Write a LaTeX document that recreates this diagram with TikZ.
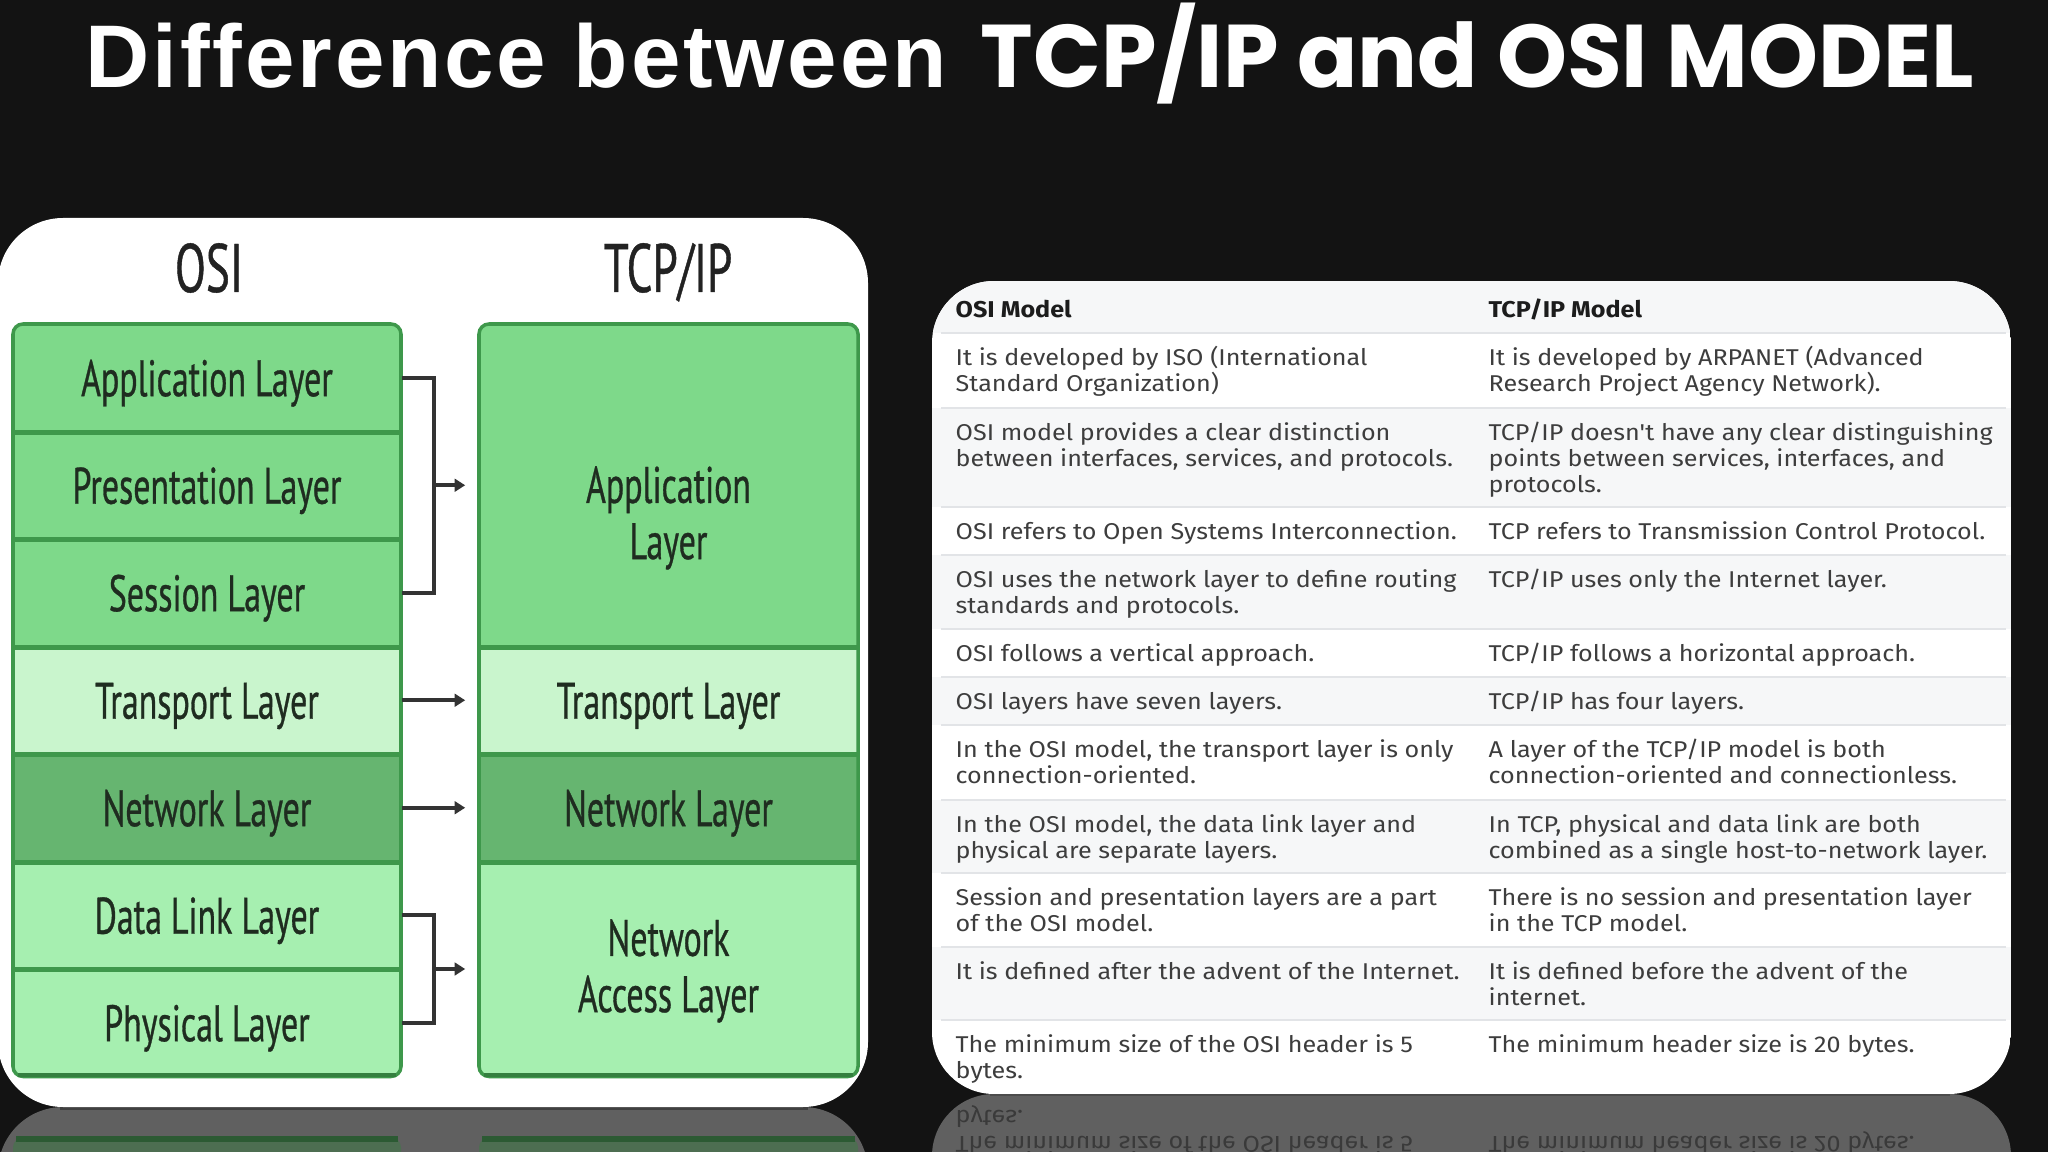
\documentclass[tikz,border=0pt]{standalone}
\usepackage{fontspec}
\usetikzlibrary{arrows.meta}
\setmainfont{Fira Sans}
\newfontfamily\tblfont[FakeStretch=1.1]{Fira Sans}
\newfontfamily\condf[FakeStretch=0.66,FakeBold=0.6]{PT Sans}
\newfontfamily\arialf[LetterSpace=3.2]{Liberation Sans}
\newfontfamily\popf{Poppins}
\newcommand\tstrut{\rule{0pt}{6pt}}
\newcommand\rstrut{\rule[-2pt]{0pt}{8pt}}
\definecolor{bg}{HTML}{131313}
\definecolor{gmid}{HTML}{7ED98A}
\definecolor{glight}{HTML}{C9F5CD}
\definecolor{gdark}{HTML}{66B570}
\definecolor{gpale}{HTML}{A6EFB0}
\definecolor{gline}{HTML}{3E984B}
\definecolor{gshadow}{HTML}{347F3F}
\definecolor{gtext}{HTML}{1F2C20}
\definecolor{headtext}{HTML}{222222}
\definecolor{conncol}{HTML}{333333}
\definecolor{tbltext}{HTML}{3D3D3D}
\definecolor{tblhead}{HTML}{1C1C1C}
\definecolor{tblline}{HTML}{E2E4E7}
\definecolor{tblgray}{HTML}{F6F7F8}
\definecolor{reflgray}{HTML}{606060}
\definecolor{reflgreen}{HTML}{4D6E51}
\definecolor{refldark}{HTML}{2C5A33}
\definecolor{refltext}{HTML}{3A3A3A}
\begin{document}
\begin{tikzpicture}[x=0.01cm, y=-0.01cm,
  layer/.style={inner sep=0pt, minimum height=1.075cm, text=gtext, font=\condf\fontsize{14.6}{16}\selectfont, text height=10.9pt, text depth=0.4pt},
  layertxt/.style={inner sep=0pt, text=gtext, font=\condf\fontsize{14.6}{16}\selectfont, align=center},
  osiw/.style={minimum width=3.88cm},
  tcpw/.style={minimum width=3.79cm},
  sepline/.style={gline, line width=1.4pt},
  conn/.style={draw=conncol, line width=1.1pt},
  arr/.style={conn, -{Triangle[length=3pt,width=3.6pt]}, shorten >=0.13cm},
  tbl/.style={anchor=north west, inner sep=0pt, align=left, text=tbltext, font={\tblfont\fontsize{6.5}{7.4}\selectfont\lineskiplimit=-5pt}},
  tblh/.style={tbl, text=tblhead, font={\tblfont\bfseries\fontsize{6.5}{7.4}\selectfont}},
  refl/.style={anchor=north west, inner sep=0pt, text=refltext, font=\tblfont\fontsize{6.5}{7.4}\selectfont},
  colhead/.style={anchor=base, text=headtext, font=\condf\fontsize{19.5}{22}\selectfont},
]
\useasboundingbox (0,0) rectangle (2048,1152);
\fill[bg] (0,0) rectangle (2048,1152);

% ---------- title ----------
\node[anchor=base west, inner sep=0pt, text=white, font=\arialf\bfseries\fontsize{25.3}{28}\selectfont] (title1) at (85,88) {Difference between};
\node[anchor=base west, inner sep=0pt, text=white, font=\popf\bfseries\fontsize{25.3}{28}\selectfont] (title2) at (980,88) {TCP/IP and OSI MODEL};

% ---------- reflections ----------
\begin{scope}
  \clip (-10,1107) rectangle (900,1160);
  \fill[reflgray, rounded corners=0.65cm] (-2,1107) rectangle (868,1996);
  \fill[reflgreen, rounded corners=0.1cm] (13,1137.5) rectangle (401,1300);
  \fill[reflgreen, rounded corners=0.1cm] (479,1137.5) rectangle (858,1300);
  \draw[refldark, line width=1.6pt] (16,1139) -- (398,1139);
  \draw[refldark, line width=1.6pt] (482,1139) -- (855,1139);
  \draw[black!75, line width=1pt] (60,1108) -- (808,1108);
\end{scope}
\begin{scope}
  \clip (920,1094) rectangle (2030,1160);
  \fill[reflgray, rounded corners=0.62cm] (932,1094) rectangle (2011,1907);
  \draw[black!70, line width=0.8pt] (990,1095) -- (1950,1095);
  \node[refl] (rf1) at (955,1103) {\scalebox{1}[-1]{\rstrut bytes.}};
  \node[refl] (rf2) at (955,1129) {\scalebox{1}[-1]{\rstrut The minimum size of the OSI header is 5}};
  \node[refl] (rf3) at (1488,1129) {\scalebox{1}[-1]{\rstrut The minimum header size is 20 bytes.}};
\end{scope}

% ---------- left panel ----------
\fill[white, rounded corners=0.65cm] (-2,218) rectangle (868,1107);
\node[colhead] (hosi) at (209,292) {OSI};
\node[colhead] (htcp) at (668,292) {TCP/IP};

\begin{scope}
  \clip[rounded corners=0.1cm] (13,324) rectangle (401,1076.5);
  \node[layer,osiw,fill=gmid]   (oapp) at (207,377.75) {Application Layer};
  \node[layer,osiw,fill=gmid]   (opre) at (207,485.25) {Presentation Layer};
  \node[layer,osiw,fill=gmid]   (oses) at (207,592.75) {Session Layer};
  \node[layer,osiw,fill=glight] (otra) at (207,700.25) {Transport Layer};
  \node[layer,osiw,fill=gdark]  (onet) at (207,807.75) {Network Layer};
  \node[layer,osiw,fill=gpale]  (odl)  at (207,915.25) {Data Link Layer};
  \node[layer,osiw,fill=gpale]  (ophy) at (207,1022.75) {Physical Layer};
\end{scope}
\begin{scope}
  \clip[rounded corners=0.1cm] (479,324) rectangle (858,1076.5);
  \node[inner sep=0pt,tcpw,fill=gmid,minimum height=3.225cm] (tapp) at (668.5,485.25) {};
  \node[layer,tcpw,fill=glight] (ttra) at (668.5,700.25) {Transport Layer};
  \node[layer,tcpw,fill=gdark]  (tnet) at (668.5,807.75) {Network Layer};
  \node[inner sep=0pt,tcpw,fill=gpale,minimum height=2.15cm] (tna) at (668.5,969) {};
\end{scope}
\node[layertxt] (tapptx) at (668.5,518) {Application\\Layer};
\node[layertxt] (tnatx) at (668.5,971) {Network\\Access Layer};
\foreach \n in {oapp,opre,oses,otra,onet,odl,tapp,ttra,tnet}
  \draw[sepline] (\n.south west) -- (\n.south east);
\draw[gline, line width=1pt, rounded corners=0.1cm] (13,324) rectangle (401,1076.5);
\draw[gline, line width=1pt, rounded corners=0.1cm] (479,324) rectangle (858,1076.5);
\draw[gshadow, line width=1.4pt] (18,1075) -- (396,1075);
\draw[gshadow, line width=1.4pt] (484,1075) -- (853,1075);

% connectors
\coordinate (b1) at (434,485.25);
\coordinate (b2) at (434,969);
\draw[conn] (oapp.east) -| (b1) |- (oses.east);
\draw[arr] (b1) -- (tapp.west);
\draw[arr] (otra.east) -- (ttra.west);
\draw[arr] (onet.east) -- (tnet.west);
\draw[conn] (odl.east) -| (b2) |- (ophy.east);
\draw[arr] (b2) -- (tna.west);

% ---------- right panel (table) ----------
\begin{scope}
  \clip[rounded corners=0.62cm] (932,281) rectangle (2011,1094);
  \fill[white] (932,281) rectangle (2011,1094);
  \fill[tblgray] (932,281) rectangle (2011,333);
  \fill[tblgray] (932,408) rectangle (2011,507);
  \fill[tblgray] (932,555) rectangle (2011,629);
  \fill[tblgray] (932,677) rectangle (2011,725);
  \fill[tblgray] (932,800) rectangle (2011,873);
  \fill[tblgray] (932,947) rectangle (2011,1020);
  \foreach \yy in {333,408,507,555,629,677,725,800,873,947,1020}
    \draw[tblline, line width=0.85pt] (941,\yy) -- (2006,\yy);
\end{scope}

\node[tblh] (h1) at (955,295.9) {\tstrut OSI Model};
\node[tblh] (h2) at (1488,295.9) {\tstrut TCP/IP Model};

\node[tbl] (a1) at (955,343.9) {\tstrut It is developed by ISO (International\\Standard Organization)};
\node[tbl] (b1t) at (1488,343.9) {\tstrut It is developed by ARPANET (Advanced\\Research Project Agency Network).};
\node[tbl] (a2) at (955,418.9) {\tstrut OSI model provides a clear distinction\\between interfaces, services, and protocols.};
\node[tbl] (b2t) at (1488,418.9) {\tstrut TCP/IP doesn't have any clear distinguishing\\points between services, interfaces, and\\protocols.};
\node[tbl] (a3) at (955,517.9) {\tstrut OSI refers to Open Systems Interconnection.};
\node[tbl] (b3t) at (1488,517.9) {\tstrut TCP refers to Transmission Control Protocol.};
\node[tbl] (a4) at (955,565.9) {\tstrut OSI uses the network layer to define routing\\standards and protocols.};
\node[tbl] (b4t) at (1488,565.9) {\tstrut TCP/IP uses only the Internet layer.};
\node[tbl] (a5) at (955,639.9) {\tstrut OSI follows a vertical approach.};
\node[tbl] (b5t) at (1488,639.9) {\tstrut TCP/IP follows a horizontal approach.};
\node[tbl] (a6) at (955,687.9) {\tstrut OSI layers have seven layers.};
\node[tbl] (b6t) at (1488,687.9) {\tstrut TCP/IP has four layers.};
\node[tbl] (a7) at (955,735.9) {\tstrut In the OSI model, the transport layer is only\\connection-oriented.};
\node[tbl] (b7t) at (1488,735.9) {\tstrut A layer of the TCP/IP model is both\\connection-oriented and connectionless.};
\node[tbl] (a8) at (955,810.9) {\tstrut In the OSI model, the data link layer and\\physical are separate layers.};
\node[tbl] (b8t) at (1488,810.9) {\tstrut In TCP, physical and data link are both\\combined as a single host-to-network layer.};
\node[tbl] (a9) at (955,883.9) {\tstrut Session and presentation layers are a part\\of the OSI model.};
\node[tbl] (b9t) at (1488,883.9) {\tstrut There is no session and presentation layer\\in the TCP model.};
\node[tbl] (a10) at (955,957.9) {\tstrut It is defined after the advent of the Internet.};
\node[tbl] (b10t) at (1488,957.9) {\tstrut It is defined before the advent of the\\internet.};
\node[tbl] (a11) at (955,1030.9) {\tstrut The minimum size of the OSI header is 5\\bytes.};
\node[tbl] (b11t) at (1488,1030.9) {\tstrut The minimum header size is 20 bytes.};
\end{tikzpicture}
\end{document}
